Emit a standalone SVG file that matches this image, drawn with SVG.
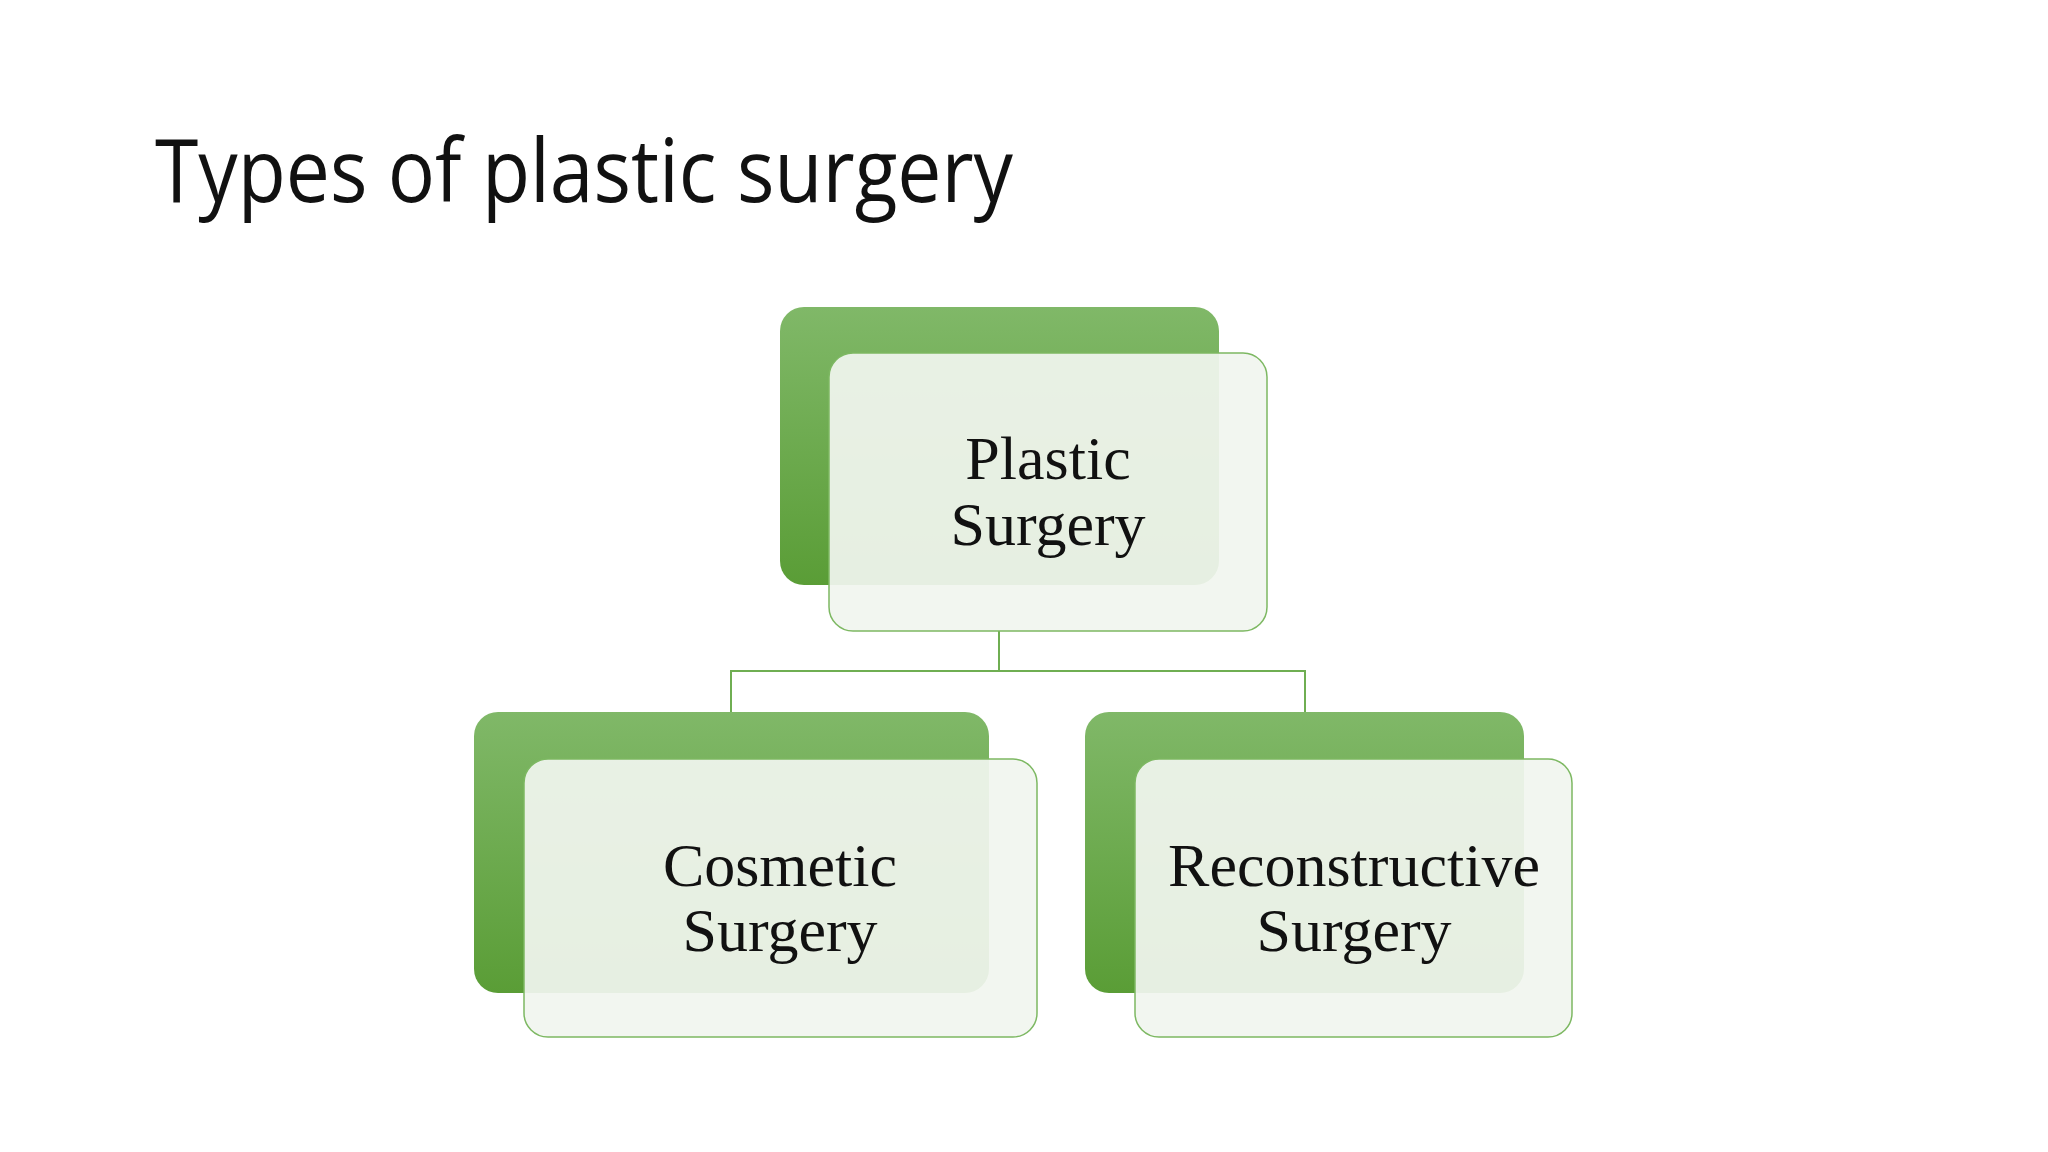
<svg xmlns="http://www.w3.org/2000/svg" width="2048" height="1152" viewBox="0 0 2048 1152">
<defs>
<linearGradient id="g" x1="0" y1="0" x2="0" y2="1">
<stop offset="0" stop-color="#80b868"/>
<stop offset="1" stop-color="#5a9d36"/>
</linearGradient>
<style>
.back{fill:url(#g)}
.front{fill:#f1f5ef;fill-opacity:0.93;stroke:#7db862;stroke-width:1.5}
.t{font-family:"Liberation Serif",serif;font-size:62px;fill:#111;text-anchor:middle}
.c{fill:none;stroke:#6fae52;stroke-width:2}
</style>
</defs>
<rect width="2048" height="1152" fill="#fff"/>
<text x="155" y="202" font-family="Open Sans, Liberation Sans, sans-serif" font-size="88" fill="#111" textLength="858" lengthAdjust="spacingAndGlyphs">Types of plastic surgery</text>
<g id="connectors">
<path class="c" d="M999 631V671M731 712V671H1305V712"/>
</g>
<g id="plastic">
<rect class="back" x="780" y="307" width="439" height="278" rx="24"/>
<rect class="front" x="829" y="353" width="438" height="278" rx="24"/>
<text class="t" x="1048" y="479">Plastic</text>
<text class="t" x="1048" y="545">Surgery</text>
</g>
<g id="cosmetic">
<rect class="back" x="474" y="712" width="515" height="281" rx="24"/>
<rect class="front" x="524" y="759" width="513" height="278" rx="24"/>
<text class="t" x="780" y="886">Cosmetic</text>
<text class="t" x="780" y="951">Surgery</text>
</g>
<g id="reconstructive">
<rect class="back" x="1085" y="712" width="439" height="281" rx="24"/>
<rect class="front" x="1135" y="759" width="437" height="278" rx="24"/>
<text class="t" x="1354" y="886">Reconstructive</text>
<text class="t" x="1354" y="951">Surgery</text>
</g>
</svg>
